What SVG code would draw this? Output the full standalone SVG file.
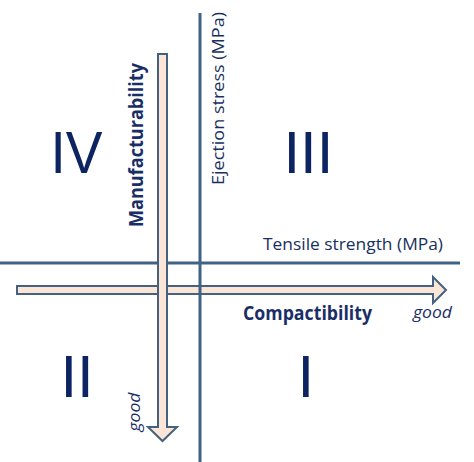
<svg xmlns="http://www.w3.org/2000/svg" width="474" height="462" viewBox="0 0 474 462">
<style>
.axis{stroke:#3f6384;stroke-width:3;fill:none}
.arrow{fill:#fbe5d6;stroke:#44617f;stroke-width:2;stroke-linejoin:miter}
.num{font-family:"Liberation Sans",Arial,sans-serif;font-size:60px;fill:#0c2462}
.lbl{font-family:"Open Sans","Liberation Sans",sans-serif;fill:#17305e}
.bold{font-weight:bold;fill:#1a2e66}
.it{font-style:italic;fill:#1a2e66}
</style>
<rect width="474" height="462" fill="#ffffff"/>
<g id="connectors">
<path id="arrow-h" class="arrow" d="M17,286 L433,286 L433,277 L446,290 L433,303 L433,294 L17,294 Z"/>
<line class="axis" x1="0" y1="263" x2="460" y2="263"/>
<line class="axis" x1="200" y1="13" x2="200" y2="462"/>
<path id="arrow-v" class="arrow" d="M158,54 L167,54 L167,427 L177,427 L162.5,441 L148,427 L158,427 Z"/>
</g>
<g id="q4"><text class="num" x="50.4" y="173" textLength="52" lengthAdjust="spacingAndGlyphs">IV</text></g>
<g id="q3"><text class="num" x="283.4" y="173">III</text></g>
<g id="q2"><text class="num" x="60.4" y="397">II</text></g>
<g id="q1"><text class="num" x="297.4" y="397">I</text></g>
<g id="label-manufacturability"><text class="lbl bold" font-size="20" text-anchor="middle" transform="translate(143,145) rotate(-90)" textLength="164" lengthAdjust="spacingAndGlyphs">Manufacturability</text></g>
<g id="label-ejection"><text class="lbl" font-size="16" text-anchor="middle" transform="translate(224,98.5) rotate(-90)" textLength="173" lengthAdjust="spacingAndGlyphs">Ejection stress (MPa)</text></g>
<g id="label-tensile"><text class="lbl" font-size="17" x="263" y="250" textLength="180" lengthAdjust="spacingAndGlyphs">Tensile strength (MPa)</text></g>
<g id="label-compactibility"><text class="lbl bold" font-size="20" x="243" y="320" textLength="129" lengthAdjust="spacingAndGlyphs">Compactibility</text></g>
<g id="label-good-h"><text class="lbl it" font-size="17" x="413" y="318" textLength="39" lengthAdjust="spacingAndGlyphs">good</text></g>
<g id="label-good-v"><text class="lbl it" font-size="17" text-anchor="middle" transform="translate(140,412) rotate(-90)" textLength="39" lengthAdjust="spacingAndGlyphs">good</text></g>
</svg>
